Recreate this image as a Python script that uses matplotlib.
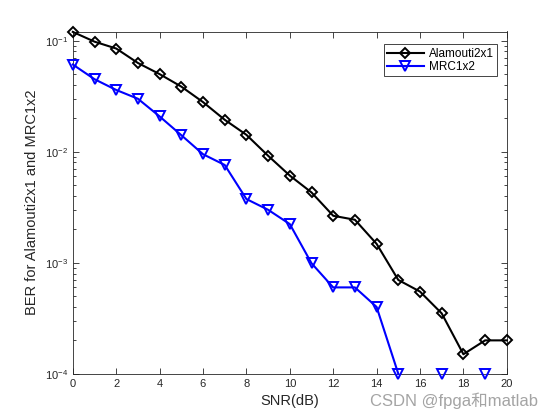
import numpy as np
import matplotlib
matplotlib.use("Agg")
import matplotlib.pyplot as plt

snr = list(range(0, 21))
ber_alamouti = [0.12, 0.098, 0.085, 0.063, 0.050, 0.0386, 0.028, 0.0194, 0.0142, 0.0092,
                0.0061, 0.0043, 0.00265, 0.00244, 0.00148, 0.0007, 0.00055, 0.00035,
                0.00015, 0.0002, 0.0002]
ber_mrc = [0.061, 0.045, 0.036, 0.030, 0.0208, 0.0141, 0.0095, 0.0076, 0.00375, 0.0030,
           0.00223, 0.00099, 0.0006, 0.0006, 0.0004, 0.0001, np.nan, 0.0001,
           np.nan, 0.0001, np.nan]
series_labels = ["Alamouti2x1", "MRC1x2"]
xlabel_text = "SNR(dB)"
ylabel_text = "BER for Alamouti2x1 and MRC1x2"
watermark = "CSDN @fpga和matlab"

plt.rcParams['font.family'] = ['Liberation Sans', 'Noto Sans CJK SC', 'DejaVu Sans']
plt.rcParams['mathtext.fontset'] = 'custom'
plt.rcParams['mathtext.rm'] = 'Liberation Sans'

fig = plt.figure(figsize=(5.6, 4.2), dpi=100)
ax = fig.add_axes([0.13, 0.11, 0.775, 0.815])

ax.semilogy(snr, ber_alamouti, color='black', marker='D', markersize=5,
            markerfacecolor='none', markeredgewidth=1.4, linewidth=1.5,
            label=series_labels[0], clip_on=False, zorder=3)
ax.semilogy(snr, ber_mrc, color='#0000ff', marker='v', markersize=6.5,
            markerfacecolor='none', markeredgewidth=1.4, linewidth=1.5,
            label=series_labels[1], clip_on=False, zorder=3)

ax.set_xlim(0, 20)
ax.set_ylim(1e-4, 0.121)
ax.set_xticks(range(0, 21, 2))
ax.tick_params(which='both', direction='in', top=True, right=True, labelsize=8,
               colors='#262626', width=0.6)
ax.tick_params(which='major', length=4)
ax.tick_params(which='minor', length=2)
for s in ax.spines.values():
    s.set_linewidth(0.6)
    s.set_color('#262626')

ax.set_xlabel(xlabel_text, fontsize=10.5, color='#262626', labelpad=4)
ax.set_ylabel(ylabel_text, fontsize=10.5, color='#262626', labelpad=4)

leg = ax.legend(loc='upper right', bbox_to_anchor=(0.983, 0.97), fontsize=8.5,
                fancybox=False, framealpha=1, edgecolor='#262626',
                borderpad=0.3, handlelength=3.1, labelspacing=0.1, handletextpad=0.4,
                borderaxespad=0.2)
leg.get_frame().set_linewidth(0.6)

fig.text(0.81, 0.047, watermark, fontsize=12, color='#9a9a9a', ha='center', va='center',
         alpha=0.9)

fig.savefig("out.png", dpi=100)
